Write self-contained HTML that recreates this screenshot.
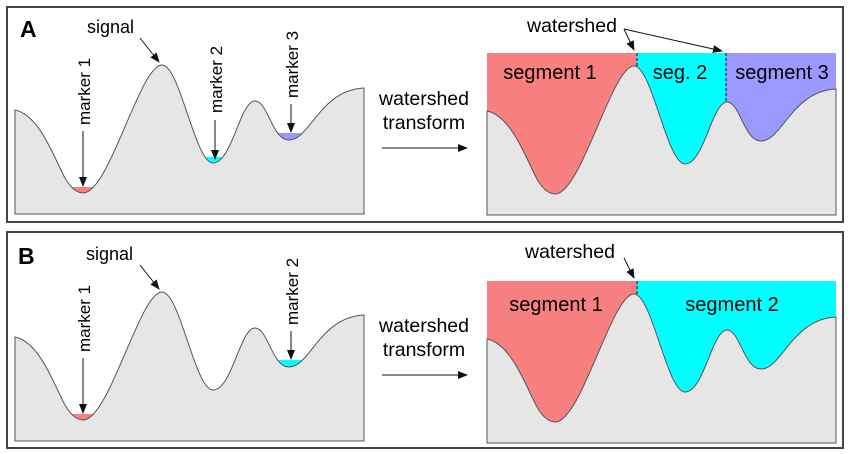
<!DOCTYPE html>
<html><head><meta charset="utf-8"><style>
html,body{margin:0;padding:0;background:#fff;}
svg{display:block;font-family:"Liberation Sans",Arial,sans-serif;}
</style></head><body>
<svg width="850" height="454" viewBox="0 0 850 454" xmlns="http://www.w3.org/2000/svg">
<defs>
<marker id="ah" markerWidth="10" markerHeight="8" refX="9" refY="4" orient="auto" markerUnits="userSpaceOnUse">
<path d="M0,0 L10,4 L0,8 Z" fill="#111"/>
</marker>
<path id="ground" d="M15,110 C40,115 55,160 65,178 C72,190 78,193 84,193 C110,190 140,65 162,65 C180,65 195,163 213,163 C232,163 240,101 255,101 C268,101 272,140 289,140 C310,140 320,90 364,88 L364,214 L15,214 Z"/>
<clipPath id="water"><path d="M15,0 L15,110 C40,115 55,160 65,178 C72,190 78,193 84,193 C110,190 140,65 162,65 C180,65 195,163 213,163 C232,163 240,101 255,101 C268,101 272,140 289,140 C310,140 320,90 364,88 L364,0 Z"/></clipPath>
</defs>

<!-- Panel A -->
<rect x="7" y="7" width="836" height="215" fill="none" stroke="#444" stroke-width="2"/>
<g>
<rect x="60" y="187" width="45" height="10" fill="#f88080" clip-path="url(#water)"/>
<rect x="195" y="157" width="40" height="10" fill="#00ffff" clip-path="url(#water)"/>
<rect x="270" y="133" width="40" height="10" fill="#9999ff" clip-path="url(#water)"/>
<use href="#ground" fill="#e6e6e6" stroke="#555" stroke-width="1"/>
</g>
<text x="20" y="37" font-size="23" font-weight="bold">A</text>
<text x="87" y="33" font-size="18">signal</text>
<line x1="140" y1="38" x2="159" y2="62" stroke="#111" marker-end="url(#ah)"/>
<text transform="translate(90,125) rotate(-90)" font-size="17">marker 1</text>
<line x1="83" y1="131" x2="83" y2="186" stroke="#111" marker-end="url(#ah)"/>
<text transform="translate(222,113) rotate(-90)" font-size="17">marker 2</text>
<line x1="215" y1="120" x2="215" y2="159" stroke="#111" marker-end="url(#ah)"/>
<text transform="translate(298,98) rotate(-90)" font-size="17">marker 3</text>
<line x1="291" y1="104" x2="291" y2="132" stroke="#111" marker-end="url(#ah)"/>
<text x="424" y="105" font-size="19.5" text-anchor="middle">watershed</text>
<text x="424" y="129" font-size="19.5" text-anchor="middle">transform</text>
<line x1="382" y1="148" x2="467" y2="148" stroke="#111" marker-end="url(#ah)"/>

<g transform="translate(472,1)">
<g clip-path="url(#water)">
<rect x="15" y="52" width="150" height="170" fill="#f88080"/>
<rect x="165" y="52" width="89" height="170" fill="#00ffff"/>
<rect x="254" y="52" width="110" height="170" fill="#9999ff"/>
</g>
<use href="#ground" fill="#e6e6e6" stroke="#555" stroke-width="1"/>
<line x1="165" y1="52" x2="165" y2="66" stroke="#111" stroke-dasharray="3,2"/>
<line x1="254" y1="52" x2="254" y2="101" stroke="#111" stroke-dasharray="3,2"/>
</g>
<text x="527" y="32" font-size="19.5">watershed</text>
<line x1="624" y1="29" x2="634" y2="50" stroke="#111" marker-end="url(#ah)"/>
<line x1="624" y1="29" x2="722" y2="51" stroke="#111" marker-end="url(#ah)"/>
<text x="550" y="79" font-size="20" text-anchor="middle">segment 1</text>
<text x="680" y="79" font-size="20" text-anchor="middle">seg. 2</text>
<text x="782" y="79" font-size="20" text-anchor="middle">segment 3</text>

<!-- Panel B -->
<g transform="translate(0,227)">
<rect x="7" y="5" width="836" height="216" fill="none" stroke="#444" stroke-width="2"/>
<rect x="60" y="187" width="45" height="10" fill="#f88080" clip-path="url(#water)"/>
<rect x="270" y="133" width="40" height="10" fill="#00ffff" clip-path="url(#water)"/>
<use href="#ground" fill="#e6e6e6" stroke="#555" stroke-width="1"/>
<text x="18" y="37" font-size="23" font-weight="bold">B</text>
<text x="86" y="33" font-size="18">signal</text>
<line x1="140" y1="38" x2="159" y2="62" stroke="#111" marker-end="url(#ah)"/>
<text transform="translate(90,125) rotate(-90)" font-size="17">marker 1</text>
<line x1="83" y1="131" x2="83" y2="186" stroke="#111" marker-end="url(#ah)"/>
<text transform="translate(298,98) rotate(-90)" font-size="17">marker 2</text>
<line x1="291" y1="104" x2="291" y2="132" stroke="#111" marker-end="url(#ah)"/>
<text x="424" y="105" font-size="19.5" text-anchor="middle">watershed</text>
<text x="424" y="129" font-size="19.5" text-anchor="middle">transform</text>
<line x1="382" y1="148" x2="467" y2="148" stroke="#111" marker-end="url(#ah)"/>
<g transform="translate(472,2)">
<g clip-path="url(#water)">
<rect x="15" y="52" width="150" height="170" fill="#f88080"/>
<rect x="165" y="52" width="199" height="170" fill="#00ffff"/>
</g>
<use href="#ground" fill="#e6e6e6" stroke="#555" stroke-width="1"/>
<line x1="165" y1="52" x2="165" y2="66" stroke="#111" stroke-dasharray="3,2"/>
</g>
<text x="525" y="31" font-size="19.5">watershed</text>
<line x1="624" y1="31" x2="634" y2="51" stroke="#111" marker-end="url(#ah)"/>
<text x="556" y="84" font-size="20" text-anchor="middle">segment 1</text>
<text x="732" y="84" font-size="20" text-anchor="middle">segment 2</text>
</g>
</svg>
</body></html>
